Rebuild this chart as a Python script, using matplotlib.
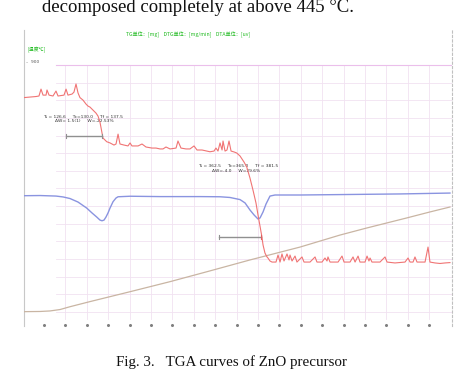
import matplotlib
matplotlib.use("Agg")
import matplotlib.pyplot as plt

# ---------------- data (time in min, signals in chart grid units) ----------------
tg_time = [0.13, 0.69, 1.25, 1.53, 1.72, 1.91, 2.19, 2.28, 2.47, 2.84, 3.12, 3.31, 3.87, 4.06, 4.24,
           4.62, 4.80, 4.99, 5.18, 5.36, 5.64, 5.93, 6.11, 6.30, 6.58, 6.86, 7.05, 7.23, 7.39, 7.51,
           7.86, 8.17, 8.54, 8.73, 8.92, 9.10, 9.48, 9.85, 10.04, 10.22, 10.79, 11.16, 11.53, 12.09,
           12.47, 12.84, 13.12, 13.40, 13.78, 14.34, 14.52, 14.80, 15.27, 15.64, 16.02, 16.30, 16.77,
           17.23, 17.51, 17.89, 18.07, 18.26, 18.45, 18.64, 18.73, 18.92, 19.10, 19.29, 19.48, 19.76,
           20.01, 20.32, 20.69, 20.94, 21.25, 21.53, 21.81, 22.00, 22.19, 22.35, 22.47, 22.65, 22.84,
           22.93, 23.12, 23.31, 23.68, 23.87, 24.06, 24.24, 24.43, 24.71, 24.90, 24.99, 25.18, 25.46,
           25.64, 26.11, 26.30, 26.86, 27.33, 27.51, 27.98, 28.26, 28.45, 28.54, 28.73, 29.48, 29.85,
           30.04, 30.60, 30.88, 31.07, 31.35, 31.53, 32.00, 32.19, 32.37, 32.47, 32.65, 33.40, 33.87,
           34.06, 34.80, 35.74, 36.02, 36.21, 36.49, 36.67, 36.86, 37.61, 37.89, 38.07, 38.54, 39.01,
           39.48, 39.94]
tg_signal = [13.15, 13.18, 13.21, 13.24, 13.63, 13.29, 13.29, 13.58, 13.29, 13.24, 13.52, 13.24, 13.29,
             13.63, 13.29, 13.35, 13.46, 13.92, 13.41, 13.15, 13.01, 12.78, 12.67, 12.61, 12.44, 12.27,
             12.10, 11.76, 11.25, 10.86, 10.65, 10.58, 10.46, 10.52, 11.08, 10.52, 10.46, 10.41, 10.58,
             10.41, 10.41, 10.52, 10.35, 10.29, 10.29, 10.24, 10.24, 10.35, 10.24, 10.29, 10.69, 10.29,
             10.24, 10.24, 10.41, 10.18, 10.18, 10.12, 10.08, 10.12, 10.29, 10.12, 10.58, 10.18, 10.69,
             10.12, 10.18, 10.69, 10.12, 10.07, 10.01, 9.84, 9.50, 9.23, 8.59, 7.91, 7.18, 6.50, 5.87,
             5.31, 4.80, 4.34, 4.12, 4.06, 3.89, 3.83, 3.83, 4.23, 3.83, 4.29, 3.89, 4.29, 3.95, 4.23,
             3.89, 4.17, 3.83, 4.12, 3.83, 3.83, 4.12, 3.83, 3.83, 4.06, 3.89, 4.12, 3.83, 3.83, 4.17,
             3.83, 3.83, 4.12, 3.83, 4.17, 3.83, 3.83, 4.17, 3.89, 4.06, 3.83, 3.83, 4.12, 3.83, 3.78,
             3.83, 4.06, 3.83, 3.83, 4.12, 3.83, 3.83, 4.68, 3.83, 3.78, 3.75, 3.78, 3.80]

dtg_time = [0.13, 1.63, 3.12, 3.78, 4.43, 5.18, 5.99, 6.49, 6.93, 7.23, 7.42, 7.61, 7.79, 7.98, 8.17,
            8.45, 8.73, 8.92, 10.04, 12.84, 16.58, 18.45, 19.38, 20.32, 20.79, 21.25, 21.63, 22.00,
            22.19, 22.47, 22.75, 23.12, 23.59, 25.93, 30.60, 35.27, 39.94]
dtg_signal = [7.59, 7.60, 7.57, 7.52, 7.43, 7.23, 6.89, 6.61, 6.38, 6.21, 6.17, 6.21, 6.38, 6.61, 6.89,
              7.25, 7.46, 7.53, 7.56, 7.54, 7.54, 7.53, 7.49, 7.37, 7.18, 6.78, 6.50, 6.27, 6.33, 6.67,
              7.12, 7.57, 7.63, 7.63, 7.66, 7.69, 7.74]

temp_time = [0.13, 1.63, 2.56, 3.50, 4.43, 6.30, 8.17, 10.04, 13.78, 17.21, 21.25, 25.93, 29.66,
             32.16, 35.90, 38.07, 39.94]
temp_signal = [1.02, 1.03, 1.06, 1.14, 1.30, 1.59, 1.87, 2.15, 2.72, 3.28, 3.95, 4.68, 5.36, 5.76,
               6.33, 6.67, 6.95]

tick_times = list(range(2, 40, 2))
grid_times = list(range(4, 40, 2))
grid_levels = list(range(1, 16))

legend_text = "TG单位：[mg]    DTG单位：[mg/min]    DTA单位：[uv]"
axis_text = "[温度℃]"
step1_l1 = "Ts = 126.6     Tc=130.0     Tf = 137.5"
step1_l2 = "ΔW= 1.5(1)     W=-22.53%"
step2_l1 = "Ts = 362.5     Tc=365.0     Tf = 381.5"
step2_l2 = "ΔW=-4.0     W=29.6%"

# ---------------- figure ----------------
W, H = 474, 376
fig = plt.figure(figsize=(W / 100, H / 100), dpi=100)
fig.patch.set_facecolor("white")

ax = fig.add_axes([24 / W, 1 - 326 / H, 428 / W, 296 / H])
ax.set_xlim(0.13, 40.13)
ax.set_ylim(0.207, 16.98)
ax.set_xticks([])
ax.set_yticks([])
for s in ("top", "bottom"):
    ax.spines[s].set_visible(False)
ax.spines["left"].set_color("#c8c8c8")
ax.spines["left"].set_linewidth(0.8)
ax.spines["right"].set_color("#c0c0c0")
ax.spines["right"].set_linewidth(0.8)
ax.spines["right"].set_linestyle((0, (2, 2)))

# grid
for gx in grid_times:
    ax.plot([gx, gx], [0.6, 15], color="#f1e2f1", lw=0.6, zorder=1)
for gy in grid_levels:
    ax.plot([3.12, 40.13], [gy, gy], color="#f1e2f1", lw=0.6, zorder=1)
ax.plot([3.12, 40.13], [15, 15], color="#ebbfeb", lw=0.8, zorder=1)

# curves
ax.plot(temp_time, temp_signal, color="#c9b5a3", lw=0.9, zorder=3)
ax.plot(dtg_time, dtg_signal, color="#8a94e0", lw=1.0, zorder=3)
ax.plot(tg_time, tg_signal, color="#f07474", lw=0.8, zorder=4)

# tick dots
ax.plot(tick_times, [0.26] * len(tick_times), ls="none", marker="o", ms=1.2,
        color="#808080", clip_on=False, zorder=5)

# step markers
ax.plot([4.06, 7.42], [10.97, 10.97], color="#909090", lw=1.0, zorder=5)
ax.plot([4.06, 4.06], [10.85, 11.09], color="#909090", lw=0.8, zorder=5)
ax.plot([7.42, 7.42], [10.85, 11.09], color="#909090", lw=0.8, zorder=5)
ax.plot([18.36, 22.28], [5.25, 5.25], color="#909090", lw=1.0, zorder=5)
ax.plot([18.36, 18.36], [5.13, 5.37], color="#909090", lw=0.8, zorder=5)
ax.plot([22.28, 22.28], [5.13, 5.37], color="#e06060", lw=0.8, zorder=5)

# annotations
fs_a = 3.2
ax.text(5.60, 12.07, step1_l1, fontsize=fs_a, ha="center", va="center", color="#333333")
ax.text(5.74, 11.82, step1_l2, fontsize=fs_a, ha="center", va="center", color="#333333")
ax.text(20.18, 9.29, step2_l1, fontsize=fs_a, ha="center", va="center", color="#333333")
ax.text(19.94, 9.01, step2_l2, fontsize=fs_a, ha="center", va="center", color="#333333")

cjk = ["Noto Sans CJK SC", "DejaVu Sans"]
fig.text(188 / W, 1 - 35 / H, legend_text, fontsize=3.7, color="#22bb22",
         ha="center", va="center", family=cjk)
fig.text(28 / W, 1 - 50 / H, axis_text, fontsize=3.6, color="#22bb22",
         ha="left", va="center", family=cjk)
fig.text(26 / W, 1 - 62 / H, "–  900", fontsize=3.2, color="#555555", ha="left", va="center")

# page text
fig.text(42 / W, 1 - 12.5 / H, "decomposed completely at above 445 °C.", fontsize=13.5,
         family="Liberation Serif", ha="left", va="baseline", color="#111111")
fig.text(232 / W, 1 - 362 / H, "Fig. 3.   TGA curves of ZnO precursor", fontsize=10.8,
         family="Liberation Serif", ha="center", va="center", color="#111111")

fig.savefig("out.png", dpi=100)
